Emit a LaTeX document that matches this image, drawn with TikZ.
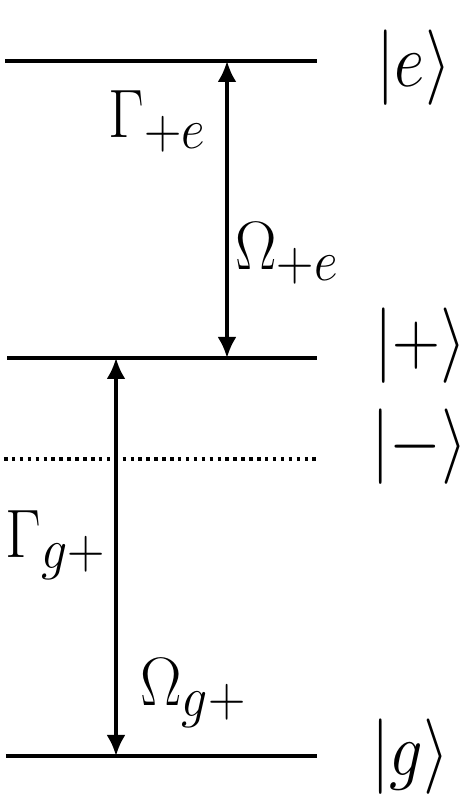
\documentclass[tikz,border=0pt]{standalone}
\usepackage{amsmath}
\usepackage{tikz}
\usetikzlibrary{arrows.meta}

\begin{document}
\begin{tikzpicture}[
	level/.style={line width=1.1pt},
	coupling/.style={line width=1.05pt,{Latex[length=2.1mm,width=1.9mm]}-{Latex[length=2.1mm,width=1.9mm]}},
	lbl/.style={anchor=base west,inner sep=0pt,font=\Huge,xscale=0.71,yscale=0.784,transform shape},
	ket/.style={lbl,xscale=1.07,yscale=1.1}]
	\useasboundingbox (0,0) rectangle (4.74,8.09);
	\foreach \name/\y/\x in {e/7.48/0.05,p/4.51/0.07,m/3.50/0.04,g/0.53/0.06} {
		\coordinate (\name L) at (\x,\y);
		\coordinate (\name R) at (3.17,\y);
	};
	\draw[level] (eL) -- (eR);
	\draw[level] (pL) -- (pR);
	\draw[level,dash pattern=on 1pt off 1.25pt] (mL) -- (mR);
	\draw[level] (gL) -- (gR);
	% couplings
	\coordinate (eTop) at (2.27,7.48);
	\coordinate (pTop) at (2.27,4.51);
	\coordinate (pBot) at (1.16,4.51);
	\coordinate (gBot) at (1.16,0.53);
	\draw[coupling] (pTop) -- (eTop);
	\draw[coupling] (gBot) -- (pBot);
	\node[lbl] (GammaPE) at (1.08,6.71) {$\Gamma_{+e}$};
	\node[lbl] (OmegaPE) at (2.35,5.39) {$\Omega_{+e}$};
	\node[lbl] (GammaGP) at (0.05,2.51) {$\Gamma_{g+}$};
	\node[lbl] (OmegaGP) at (1.40,1.03) {$\Omega_{g+}$};
	% states
	\node[ket] (ketE) at (3.76,7.22) {$|e\rangle$};
	\node[ket] (ketP) at (3.74,4.44) {$|+\rangle$};
	\node[ket] (ketM) at (3.71,3.43) {$|-\rangle$};
	\node[ket] (ketG) at (3.71,0.33) {$|g\rangle$};
\end{tikzpicture}
\end{document}
